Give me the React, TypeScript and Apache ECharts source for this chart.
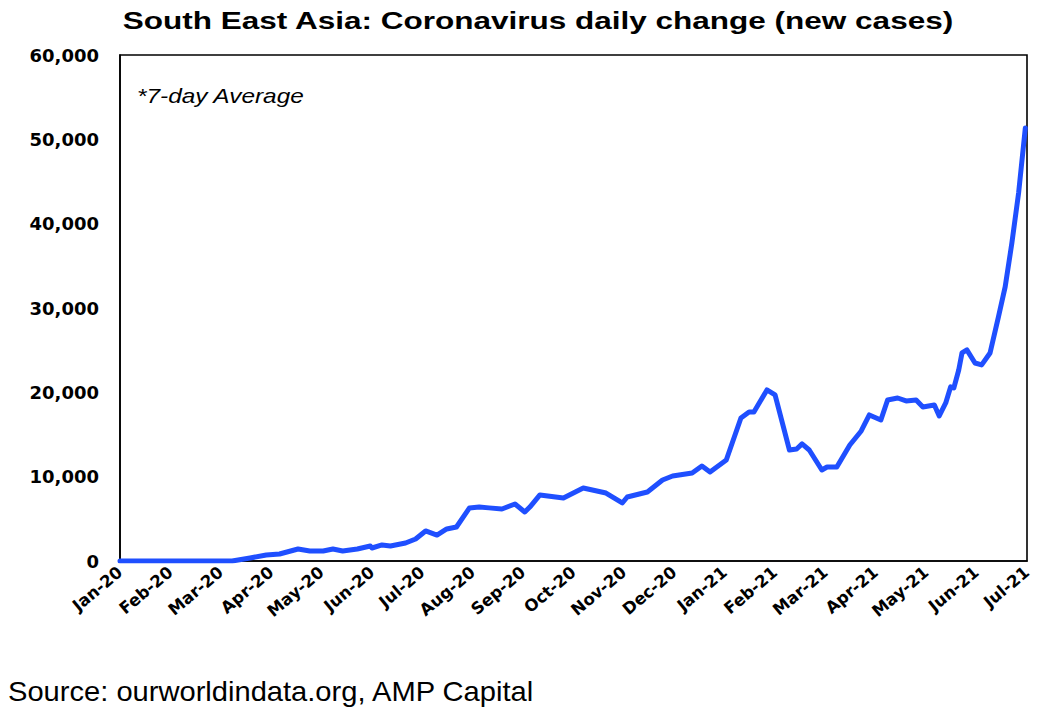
import React, { useEffect, useRef } from "react";
import * as echarts from "echarts";

const title = "South East Asia: Coronavirus daily change (new cases)";
const note = "*7-day Average";
const source = "Source: ourworldindata.org, AMP Capital";

const monthLabels = [
  "Jan-20", "Feb-20", "Mar-20", "Apr-20", "May-20", "Jun-20", "Jul-20", "Aug-20", "Sep-20",
  "Oct-20", "Nov-20", "Dec-20", "Jan-21", "Feb-21", "Mar-21", "Apr-21", "May-21", "Jun-21", "Jul-21",
];

const yTicks = [0, 10000, 20000, 30000, 40000, 50000, 60000];

const dates = [
  "2020-01-01", "2020-03-08", "2020-03-19", "2020-03-29", "2020-04-06", "2020-04-17", "2020-04-24",
  "2020-05-02", "2020-05-08", "2020-05-14", "2020-05-23", "2020-05-31", "2020-06-01", "2020-06-07",
  "2020-06-12", "2020-06-21", "2020-06-27", "2020-07-03", "2020-07-10", "2020-07-16", "2020-07-22",
  "2020-07-30", "2020-08-05", "2020-08-11", "2020-08-19", "2020-08-27", "2020-09-02", "2020-09-05",
  "2020-09-11", "2020-09-25", "2020-10-07", "2020-10-21", "2020-10-31", "2020-11-03", "2020-11-15",
  "2020-11-24", "2020-11-30", "2020-12-12", "2020-12-18", "2020-12-23", "2021-01-02", "2021-01-11",
  "2021-01-16", "2021-01-19", "2021-01-27", "2021-02-01", "2021-02-09", "2021-02-13", "2021-02-16",
  "2021-02-20", "2021-02-27", "2021-03-02", "2021-03-08", "2021-03-16", "2021-03-23", "2021-03-28",
  "2021-04-04", "2021-04-08", "2021-04-14", "2021-04-19", "2021-04-25", "2021-04-29", "2021-05-06",
  "2021-05-09", "2021-05-13", "2021-05-16", "2021-05-18", "2021-05-21", "2021-05-23", "2021-05-26",
  "2021-05-31", "2021-06-04", "2021-06-09", "2021-06-14", "2021-06-18", "2021-06-22", "2021-06-26",
  "2021-06-30",
];

const newCases = [
  0, 0, 360, 710, 830, 1420, 1190,
  1190, 1420, 1190, 1420, 1780, 1540, 1900,
  1780, 2130, 2610, 3560, 3080, 3800, 4030,
  6290, 6400, 6300, 6170, 6760, 5810, 6400,
  7830, 7470, 8660, 8060, 6880, 7590, 8180,
  9600, 10080, 10440, 11270, 10560, 11980, 16960,
  17670, 17670, 20280, 19690, 13160, 13280, 13880,
  13160, 10790, 11150, 11150, 13760, 15420, 17320,
  16720, 19100, 19330, 18980, 19100, 18270, 18500,
  17200, 18740, 20640, 20520, 22650, 24670, 25030,
  23480, 23250, 24670, 28940, 32500, 37710, 43640,
  51350,
];

// convert a date string to months elapsed since Jan 2020
function monthIndex(d: string): number {
  const [y, m, day] = d.split("-").map(Number);
  const dim = new Date(y, m, 0).getDate();
  return (y - 2020) * 12 + (m - 1) + (day - 1) / dim;
}

const FONT = "'Liberation Sans', Arial, sans-serif";
const WIDE = "'DejaVu Sans', 'Liberation Sans', sans-serif";

export default function App() {
  const ref = useRef<HTMLDivElement>(null);
  useEffect(() => {
    if (!ref.current) return;
    const chart = echarts.init(ref.current, null, { renderer: "svg" });
    const seriesData = dates.map((d, i) => [monthIndex(d), newCases[i]]);
    chart.setOption({
      animation: false,
      backgroundColor: "#ffffff",
      textStyle: { fontFamily: FONT },
      grid: {
        left: 120,
        right: 27,
        top: 55,
        bottom: 165,
        show: true,
        borderColor: "#000",
        borderWidth: 1.6,
        backgroundColor: "transparent",
      },
      xAxis: {
        type: "value",
        min: 0,
        max: monthLabels.length - 1,
        interval: 1,
        splitLine: { show: false },
        axisTick: { show: false },
        axisLine: { show: true, lineStyle: { color: "#000", width: 1.6 } },
        axisLabel: {
          rotate: 40,
          margin: 9,
          fontFamily: WIDE,
          fontSize: 16.5,
          fontWeight: "bold",
          color: "#000",
          showMinLabel: true,
          showMaxLabel: true,
          formatter: (v: number) => monthLabels[Math.round(v)] ?? "",
        },
      },
      yAxis: {
        type: "value",
        min: yTicks[0],
        max: yTicks[yTicks.length - 1],
        interval: yTicks[1] - yTicks[0],
        splitLine: { show: false },
        axisTick: { show: false },
        axisLine: { show: true, lineStyle: { color: "#000", width: 1.6 } },
        axisLabel: {
          margin: 21,
          fontFamily: WIDE,
          fontSize: 18,
          fontWeight: "bold",
          color: "#000",
          formatter: (v: number) => v.toLocaleString("en-US"),
        },
      },
      graphic: [
        {
          type: "text",
          x: 538,
          y: 21,
          scaleX: 1.37,
          style: {
            text: title,
            font: `bold 23px ${FONT}`,
            fill: "#000",
            align: "center",
            verticalAlign: "middle",
          },
        },
        {
          type: "text",
          x: 137,
          y: 96,
          scaleX: 1.22,
          style: {
            text: note,
            font: `italic 20px ${FONT}`,
            fill: "#000",
            align: "left",
            verticalAlign: "middle",
          },
        },
        {
          type: "text",
          x: 8,
          y: 691,
          scaleX: 1.04,
          style: {
            text: source,
            font: `28px ${FONT}`,
            fill: "#000",
            align: "left",
            verticalAlign: "middle",
          },
        },
      ],
      series: [
        {
          type: "line",
          data: seriesData,
          showSymbol: false,
          symbol: "none",
          lineStyle: { color: "#1f4fff", width: 5, join: "round", cap: "round" },
          z: 3,
        },
      ],
    });
    return () => chart.dispose();
  }, []);
  return (
    <div
      ref={ref}
      style={{ position: "absolute", left: 0, top: 0, width: 1054, height: 726, background: "#fff" }}
    />
  );
}
